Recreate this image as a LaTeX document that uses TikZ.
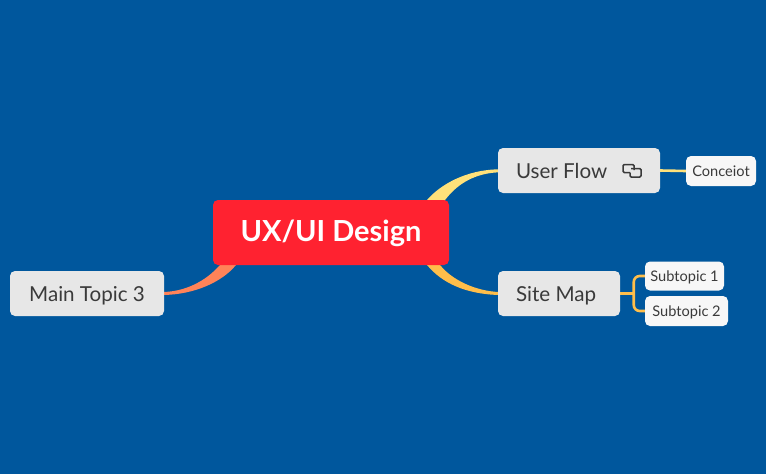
\documentclass[tikz,border=0pt]{standalone}
\usepackage{fontspec}
\setmainfont{Lato}
\usetikzlibrary{calc,backgrounds}
\definecolor{bgblue}{HTML}{00579D}
\definecolor{rootred}{HTML}{FF2230}
\definecolor{topicgrey}{HTML}{E7E7E7}
\definecolor{subwhite}{HTML}{F7F7F7}
\definecolor{textgrey}{HTML}{3A3A3A}
\definecolor{ylw}{HTML}{FFE17A}
\definecolor{amber}{HTML}{FFBE4A}
\definecolor{coral}{HTML}{FF8358}
\tikzset{
  x=1pt,y=-1pt,
  rootbox/.style={fill=rootred,rounded corners=5pt,minimum width=236pt,minimum height=65pt,inner sep=0pt,text=white,text height=20pt,text depth=3pt,font=\fontsize{29}{34}\selectfont\bfseries},
  topicbox/.style={fill=topicgrey,rounded corners=5pt,minimum height=45pt,inner sep=0pt,text=textgrey,text height=17pt,text depth=2pt,font=\fontsize{20.6}{25}\selectfont},
  subbox/.style={fill=subwhite,rounded corners=5pt,inner sep=0pt,text=textgrey,text height=12pt,text depth=2pt,font=\fontsize{14.6}{18}\selectfont},
  subline/.style={line width=2.6pt,rounded corners=6pt}
}
\begin{document}
\begin{tikzpicture}
\useasboundingbox (0,0) rectangle (766,474);
\node[rootbox] (root) at (331,232.5) {UX/UI Design};
\node[topicbox,minimum width=162pt] (flow) at (579,170.5) {\makebox[126pt][l]{User Flow}};
\node[topicbox,minimum width=122pt] (site) at (559,293.5) {\makebox[86pt][l]{Site Map}};
\node[topicbox,minimum width=154pt] (main) at (87,293.5) {Main Topic 3};
\node[subbox,minimum width=70pt,minimum height=30pt] (con) at (721,171) {Conceiot};
\node[subbox,minimum width=79pt,minimum height=29pt] (s1) at (684.5,276) {Subtopic 1};
\node[subbox,minimum width=83pt,minimum height=30pt] (s2) at (686.5,311) {Subtopic 2};
\coordinate (fork) at ($(site.east)!0.55!(s1.west|-site.east)$);
\begin{scope}[on background layer]
\fill[bgblue] (0,0) rectangle (766,474);
\fill[ylw] ($(flow.west)+(1,-1.2)$) .. controls +(-33,.5) and +(13,-15) .. ($(root.north east)+(-22,0)$)
  -- ($(root.north east)+(-22,8)$) -- ($(root.north east)+(-4,8)$) -- ($(root.north east)+(-4,0)$)
  .. controls +(13,-17) and +(-23,1) .. ($(flow.west)+(1,1.8)$) -- cycle;
\fill[amber] ($(site.west)+(1,-1.5)$) .. controls +(-23,-1) and +(12,15) .. ($(root.south east)+(-9,0)$)
  -- ($(root.south east)+(-9,-8)$) -- ($(root.south east)+(-22,-8)$) -- ($(root.south east)+(-22,0)$)
  .. controls +(15,18) and +(-33,-1) .. ($(site.west)+(1,1.5)$) -- cycle;
\fill[coral] ($(main.east)+(-1,-1.5)$) .. controls +(21,-.5) and +(-15,17) .. ($(root.south west)+(7,0)$)
  -- ($(root.south west)+(7,-8)$) -- ($(root.south west)+(23,-8)$) -- ($(root.south west)+(23,0)$)
  .. controls +(-14,17) and +(31,-.5) .. ($(main.east)+(-1,1.5)$) -- cycle;
\draw[ylw,line width=2.6pt] (flow.east) -- (con.west);
\draw[amber,subline] (site.east) -- (fork);
\draw[amber,subline] (s1.west) -| (fork) |- (s2.west);
\end{scope}
\begin{scope}[textgrey,line width=1.5pt,rounded corners=1.2pt]
\draw (630,172.5) -- (623,172.5) -- (623,164.5) -- (634,164.5) -- (634,170);
\draw (631,168.5) -- (641,168.5) -- (641,177) -- (630,177) -- (630,172.5);
\end{scope}
\end{tikzpicture}
\end{document}
